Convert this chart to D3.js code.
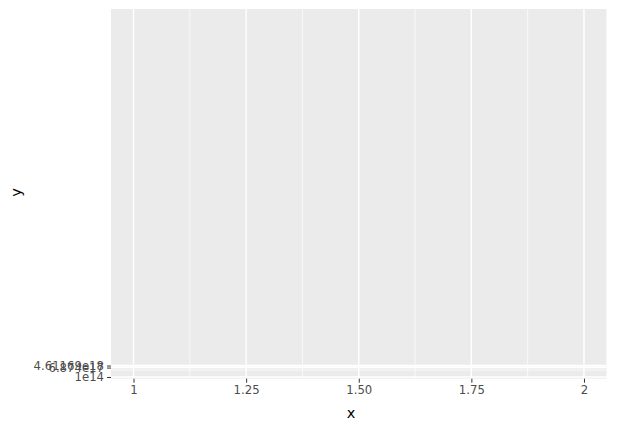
<!DOCTYPE html>
<html>
<head>
<meta charset="utf-8">
<script src="https://cdn.jsdelivr.net/npm/d3@7"></script>
<style>
  body { margin: 0; background: #fff; }
  text { font-family: "DejaVu Sans", sans-serif; }
</style>
</head>
<body>
<div class="board"></div>
<script>
// chart values
var xTicks = [1, 1.25, 1.5, 1.75, 2];
var xTickLabels = ['1', '1.25', '1.50', '1.75', '2'];
var xMinorTicks = [1.125, 1.375, 1.625, 1.875];
var yTicks = [1e14, 6.874e17, 4.61169e18];
var yTickLabels = ['1e14', '6.874e17', '4.61169e18'];
var yMinorTicks = [7e16, 1.8e18];
var xDomain = [0.95, 2.05];
var yDomain = [Math.pow(10, 13.3), Math.pow(10, 164)];

var width = 617;
var height = 430;
var panel = { left: 111, right: 606.5, top: 9, bottom: 378.7 };

var svg = d3.select('.board')
            .append('svg')
            .attr('width', width)
            .attr('height', height);

var x = d3.scaleLinear().domain(xDomain).range([panel.left, panel.right]);
var y = d3.scaleLog().domain(yDomain).range([panel.bottom, panel.top]);

// panel background
svg.append('rect')
   .attr('x', panel.left)
   .attr('y', panel.top)
   .attr('width', panel.right - panel.left)
   .attr('height', panel.bottom - panel.top)
   .style('fill', '#ebebeb');

// grid lines, minor first then major
svg.selectAll('.xminor')
   .data(xMinorTicks)
   .enter()
   .append('line')
   .attr('x1', function(d) { return x(d); })
   .attr('x2', function(d) { return x(d); })
   .attr('y1', panel.top)
   .attr('y2', panel.bottom)
   .style('stroke', '#fff')
   .style('stroke-width', 0.7);

svg.selectAll('.yminor')
   .data(yMinorTicks)
   .enter()
   .append('line')
   .attr('x1', panel.left)
   .attr('x2', panel.right)
   .attr('y1', function(d) { return y(d); })
   .attr('y2', function(d) { return y(d); })
   .style('stroke', '#fff')
   .style('stroke-width', 0.7);

svg.selectAll('.xmajor')
   .data(xTicks)
   .enter()
   .append('line')
   .attr('x1', function(d) { return x(d); })
   .attr('x2', function(d) { return x(d); })
   .attr('y1', panel.top)
   .attr('y2', panel.bottom)
   .style('stroke', '#fff')
   .style('stroke-width', 1.4);

svg.selectAll('.ymajor')
   .data(yTicks)
   .enter()
   .append('line')
   .attr('x1', panel.left)
   .attr('x2', panel.right)
   .attr('y1', function(d) { return y(d); })
   .attr('y2', function(d) { return y(d); })
   .style('stroke', '#fff')
   .style('stroke-width', 1.6);

// axes
var xAxis = d3.axisBottom(x)
              .tickValues(xTicks)
              .tickFormat(function(d, i) { return xTickLabels[i]; })
              .tickSize(4)
              .tickPadding(3);
var yAxis = d3.axisLeft(y)
              .tickValues(yTicks)
              .tickFormat(function(d, i) { return yTickLabels[i]; })
              .tickSize(4)
              .tickPadding(3);

var gx = svg.append('g')
            .attr('transform', 'translate(0,' + panel.bottom + ')')
            .call(xAxis);
var gy = svg.append('g')
            .attr('transform', 'translate(' + panel.left + ',0)')
            .call(yAxis);

[gx, gy].forEach(function(g) {
  g.select('.domain').remove();
  g.selectAll('.tick line').style('stroke', '#333').style('stroke-width', 1);
  g.selectAll('.tick text')
   .style('fill', '#4d4d4d')
   .style('font-size', '11.7px')
   .style('font-family', 'DejaVu Sans');
});

// axis titles
svg.append('text')
   .attr('x', 351)
   .attr('y', 418)
   .attr('text-anchor', 'middle')
   .style('font-size', '14.5px')
   .style('fill', '#000')
   .text('x');

svg.append('text')
   .attr('transform', 'translate(21,' + 192.5 + ') rotate(-90)')
   .attr('text-anchor', 'middle')
   .style('font-size', '14.5px')
   .style('fill', '#000')
   .text('y');
</script>
</body>
</html>
